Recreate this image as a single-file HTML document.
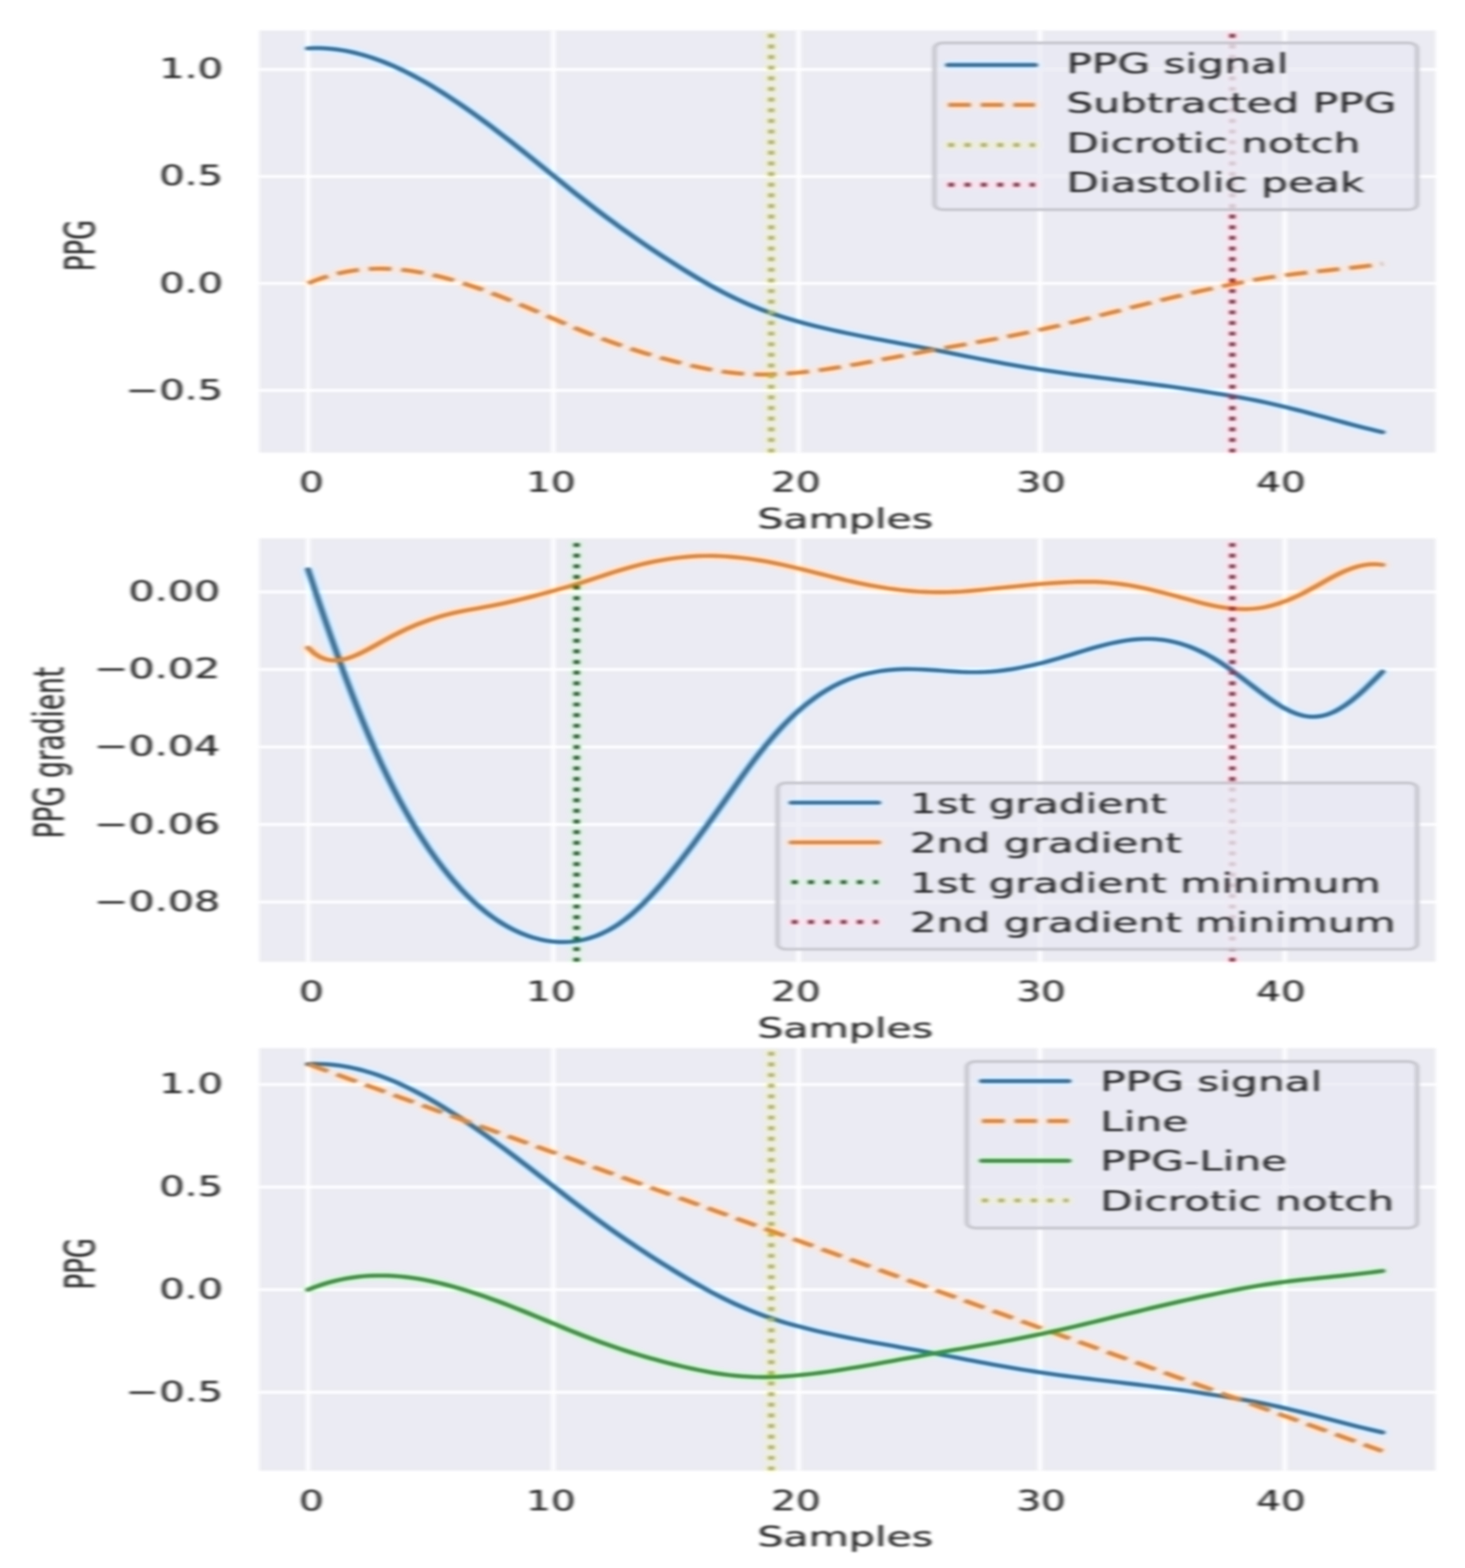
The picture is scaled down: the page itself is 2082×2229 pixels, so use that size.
<!DOCTYPE html>
<html lang="en"><head><meta charset="utf-8"><title>PPG signal analysis</title>
<style>html,body{margin:0;padding:0;background:#fff}body{width:2082px;height:2229px;overflow:hidden}</style>
</head><body>
<svg width="2082" height="2229" viewBox="0 0 350 575" preserveAspectRatio="none" style="display:block">
<defs>
<clipPath id="c0"><rect x="61.95" y="11.17" width="280.99" height="154.8"/></clipPath>
<clipPath id="c1"><rect x="61.95" y="197.47" width="280.99" height="155.22"/></clipPath>
<clipPath id="c2"><rect x="61.95" y="384.37" width="280.99" height="154.91"/></clipPath>
<filter id="bl" filterUnits="userSpaceOnUse" x="-8" y="-8" width="366" height="591" color-interpolation-filters="sRGB">
<feGaussianBlur in="SourceGraphic" stdDeviation="0.45" result="b"/>
<feColorMatrix in="b" type="matrix" values="0.299 0.587 0.114 0 0  0.299 0.587 0.114 0 0  0.299 0.587 0.114 0 0  0 0 0 1 0" result="y"/>
<feColorMatrix in="b" type="matrix" values="0.3505 -0.2935 -0.057 0 0.50196  -0.1495 0.2065 -0.057 0 0.50196  -0.1495 -0.2935 0.443 0 0.50196  0 0 0 1 0" result="c"/>
<feGaussianBlur in="c" stdDeviation="1.0" result="cb"/>
<feComposite in="y" in2="cb" operator="arithmetic" k1="0" k2="1" k3="2" k4="-1.00392"/>
</filter>
</defs>
<rect width="350" height="575" fill="#ffffff"/>
<g font-family="'DejaVu Sans', 'Liberation Sans', sans-serif" font-size="10.0" fill="#262626" stroke="#262626" stroke-width="0.06" stroke-linejoin="round" filter="url(#bl)">
<rect x="-10" y="-10" width="370" height="595" fill="#ffffff" stroke="none"/>
<rect x="61.95" y="11.17" width="280.99" height="154.8" fill="#EAEAF2" stroke="none"/>
<g stroke="#ffffff" stroke-width="1.0" clip-path="url(#c0)">
<line x1="73.61" x2="73.61" y1="11.17" y2="165.97"/>
<line x1="132.2" x2="132.2" y1="11.17" y2="165.97"/>
<line x1="190.8" x2="190.8" y1="11.17" y2="165.97"/>
<line x1="248.46" x2="248.46" y1="11.17" y2="165.97"/>
<line x1="306.96" x2="306.96" y1="11.17" y2="165.97"/>
<line x1="61.95" x2="342.94" y1="25.49" y2="25.49"/>
<line x1="61.95" x2="342.94" y1="64.71" y2="64.71"/>
<line x1="61.95" x2="342.94" y1="103.94" y2="103.94"/>
<line x1="61.95" x2="342.94" y1="143.17" y2="143.17"/>
</g>
<text transform="translate(74.39 180.42) scale(0.93 1)" text-anchor="middle">0</text>
<text transform="translate(131.63 180.42) scale(0.93 1)" text-anchor="middle">10</text>
<text transform="translate(190.16 180.42) scale(0.93 1)" text-anchor="middle">20</text>
<text transform="translate(248.73 180.42) scale(0.93 1)" text-anchor="middle">30</text>
<text transform="translate(306.04 180.42) scale(0.93 1)" text-anchor="middle">40</text>
<text transform="translate(53.29 28.74) scale(0.96 1)" text-anchor="end">1.0</text>
<text transform="translate(53.29 67.96) scale(0.96 1)" text-anchor="end">0.5</text>
<text transform="translate(53.29 107.19) scale(0.96 1)" text-anchor="end">0.0</text>
<text transform="translate(53.29 146.42) scale(0.96 1)" text-anchor="end">−0.5</text>
<text transform="translate(201.94 193.83) scale(0.985 1)" text-anchor="middle">Samples</text>
<text transform="translate(22.53 90.03) rotate(-90) scale(0.95 1)" text-anchor="middle">PPG</text>
<g clip-path="url(#c0)">
<polyline points="73.61,17.73 75.07,17.65 76.53,17.66 77.99,17.76 79.45,17.95 80.91,18.23 82.36,18.59 83.82,19.03 85.28,19.55 86.74,20.15 88.2,20.83 89.66,21.58 91.11,22.39 92.57,23.28 94.03,24.23 95.49,25.25 96.95,26.33 98.41,27.47 99.86,28.66 101.32,29.91 102.78,31.21 104.24,32.56 105.7,33.96 107.16,35.4 108.61,36.88 110.07,38.39 111.53,39.94 112.99,41.51 114.45,43.12 115.91,44.76 117.36,46.43 118.82,48.13 120.28,49.85 121.74,51.58 123.2,53.34 124.66,55.11 126.11,56.89 127.57,58.68 129.03,60.49 130.49,62.29 131.95,64.1 133.41,65.91 134.86,67.71 136.32,69.51 137.78,71.29 139.24,73.04 140.7,74.78 142.16,76.5 143.61,78.19 145.07,79.86 146.53,81.51 147.99,83.14 149.45,84.74 150.91,86.32 152.36,87.87 153.82,89.41 155.28,90.91 156.74,92.4 158.2,93.87 159.66,95.32 161.11,96.74 162.57,98.15 164.03,99.53 165.49,100.89 166.95,102.23 168.41,103.53 169.86,104.8 171.32,106.03 172.78,107.21 174.24,108.35 175.7,109.44 177.16,110.47 178.61,111.46 180.07,112.41 181.53,113.3 182.99,114.15 184.45,114.95 185.91,115.7 187.36,116.41 188.82,117.09 190.28,117.73 191.74,118.35 193.2,118.94 194.66,119.51 196.11,120.06 197.57,120.58 199.03,121.08 200.49,121.57 201.95,122.04 203.41,122.5 204.86,122.96 206.32,123.4 207.78,123.84 209.24,124.26 210.7,124.68 212.16,125.1 213.61,125.51 215.07,125.93 216.53,126.34 217.99,126.76 219.45,127.18 220.91,127.61 222.36,128.03 223.82,128.46 225.28,128.9 226.74,129.35 228.2,129.8 229.66,130.25 231.11,130.7 232.57,131.14 234.03,131.59 235.49,132.02 236.95,132.45 238.41,132.87 239.86,133.28 241.32,133.68 242.78,134.07 244.24,134.45 245.7,134.83 247.16,135.19 248.61,135.54 250.07,135.89 251.53,136.23 252.99,136.55 254.45,136.87 255.91,137.17 257.36,137.46 258.82,137.75 260.28,138.03 261.74,138.31 263.2,138.58 264.66,138.86 266.11,139.13 267.57,139.41 269.03,139.68 270.49,139.96 271.95,140.24 273.41,140.53 274.86,140.82 276.32,141.11 277.78,141.4 279.24,141.7 280.7,142.01 282.16,142.32 283.61,142.64 285.07,142.97 286.53,143.31 287.99,143.65 289.45,144 290.91,144.36 292.36,144.72 293.82,145.1 295.28,145.48 296.74,145.88 298.2,146.3 299.66,146.73 301.11,147.19 302.57,147.66 304.03,148.16 305.49,148.67 306.95,149.21 308.41,149.76 309.86,150.32 311.32,150.9 312.78,151.49 314.24,152.08 315.7,152.69 317.16,153.29 318.61,153.9 320.07,154.5 321.53,155.1 322.99,155.69 324.45,156.28 325.91,156.85 327.36,157.4 328.82,157.95 330.28,158.47" fill="none" stroke="#1f77b4" stroke-width="1.47" stroke-linejoin="round" stroke-linecap="round"/>
<polyline points="73.61,103.94 75.07,103.02 76.53,102.19 77.99,101.45 79.45,100.8 80.91,100.24 82.36,99.76 83.82,99.36 85.28,99.04 86.74,98.8 88.2,98.64 89.66,98.54 91.11,98.52 92.57,98.57 94.03,98.68 95.49,98.86 96.95,99.1 98.41,99.39 99.86,99.75 101.32,100.16 102.78,100.62 104.24,101.13 105.7,101.68 107.16,102.28 108.61,102.92 110.07,103.59 111.53,104.3 112.99,105.03 114.45,105.8 115.91,106.6 117.36,107.43 118.82,108.29 120.28,109.16 121.74,110.06 123.2,110.97 124.66,111.9 126.11,112.85 127.57,113.8 129.03,114.76 130.49,115.73 131.95,116.7 133.41,117.66 134.86,118.63 136.32,119.58 137.78,120.52 139.24,121.43 140.7,122.33 142.16,123.21 143.61,124.06 145.07,124.89 146.53,125.7 147.99,126.49 149.45,127.25 150.91,127.99 152.36,128.7 153.82,129.39 155.28,130.06 156.74,130.71 158.2,131.33 159.66,131.94 161.11,132.53 162.57,133.09 164.03,133.64 165.49,134.16 166.95,134.65 168.41,135.11 169.86,135.54 171.32,135.93 172.78,136.27 174.24,136.57 175.7,136.81 177.16,137.01 178.61,137.16 180.07,137.26 181.53,137.32 182.99,137.33 184.45,137.29 185.91,137.2 187.36,137.07 188.82,136.9 190.28,136.71 191.74,136.48 193.2,136.24 194.66,135.97 196.11,135.67 197.57,135.35 199.03,135.01 200.49,134.66 201.95,134.29 203.41,133.91 204.86,133.53 206.32,133.13 207.78,132.72 209.24,132.31 210.7,131.89 212.16,131.46 213.61,131.04 215.07,130.61 216.53,130.19 217.99,129.77 219.45,129.35 220.91,128.93 222.36,128.52 223.82,128.11 225.28,127.7 226.74,127.31 228.2,126.92 229.66,126.53 231.11,126.14 232.57,125.75 234.03,125.35 235.49,124.94 236.95,124.53 238.41,124.11 239.86,123.68 241.32,123.24 242.78,122.79 244.24,122.33 245.7,121.86 247.16,121.39 248.61,120.9 250.07,120.4 251.53,119.9 252.99,119.39 254.45,118.86 255.91,118.32 257.36,117.78 258.82,117.22 260.28,116.66 261.74,116.1 263.2,115.53 264.66,114.97 266.11,114.4 267.57,113.84 269.03,113.27 270.49,112.71 271.95,112.15 273.41,111.6 274.86,111.04 276.32,110.49 277.78,109.95 279.24,109.41 280.7,108.87 282.16,108.35 283.61,107.83 285.07,107.32 286.53,106.81 287.99,106.31 289.45,105.82 290.91,105.34 292.36,104.86 293.82,104.4 295.28,103.94 296.74,103.5 298.2,103.08 299.66,102.67 301.11,102.29 302.57,101.92 304.03,101.58 305.49,101.25 306.95,100.94 308.41,100.65 309.86,100.38 311.32,100.11 312.78,99.86 314.24,99.62 315.7,99.38 317.16,99.15 318.61,98.91 320.07,98.67 321.53,98.43 322.99,98.18 324.45,97.93 325.91,97.66 327.36,97.37 328.82,97.07 330.28,96.76" fill="none" stroke="#ff7f0e" stroke-width="1.47" stroke-linejoin="round" stroke-linecap="butt" stroke-dasharray="5.44 2.35"/>
<line x1="184.26" x2="184.26" y1="165.97" y2="11.17" stroke="#bfbf00" stroke-width="1.47" stroke-dasharray="1.47 2.43"/>
<line x1="294.42" x2="294.42" y1="165.97" y2="11.17" stroke="#d0183c" stroke-width="1.47" stroke-dasharray="1.47 2.43"/>
</g>
<rect x="223.25" y="15.74" width="115.32" height="61.14" rx="2" ry="2" fill="#EAEAF2" fill-opacity="0.8" stroke="#c4c4cc" stroke-opacity="1" stroke-width="1.0"/>
<line x1="226.52" x2="247.29" y1="23.84" y2="23.84" stroke="#1f77b4" stroke-width="1.47" stroke-linecap="round"/>
<text x="254.77" y="26.75" font-size="10.1">PPG signal</text>
<line x1="226.52" x2="247.29" y1="38.49" y2="38.49" stroke="#ff7f0e" stroke-width="1.47" stroke-dasharray="5.44 2.35"/>
<text x="254.77" y="41.33" font-size="10.1">Subtracted PPG</text>
<line x1="226.52" x2="247.29" y1="53.17" y2="53.17" stroke="#bfbf00" stroke-width="1.47" stroke-dasharray="1.47 2.43"/>
<text x="254.77" y="55.93" font-size="10.1">Dicrotic notch</text>
<line x1="226.52" x2="247.29" y1="67.74" y2="67.74" stroke="#d0183c" stroke-width="1.47" stroke-dasharray="1.47 2.43"/>
<text x="254.77" y="70.42" font-size="10.1">Diastolic peak</text>
<rect x="61.95" y="197.47" width="280.99" height="155.22" fill="#EAEAF2" stroke="none"/>
<g stroke="#ffffff" stroke-width="1.0" clip-path="url(#c1)">
<line x1="73.61" x2="73.61" y1="197.47" y2="352.69"/>
<line x1="132.2" x2="132.2" y1="197.47" y2="352.69"/>
<line x1="190.8" x2="190.8" y1="197.47" y2="352.69"/>
<line x1="248.46" x2="248.46" y1="197.47" y2="352.69"/>
<line x1="306.96" x2="306.96" y1="197.47" y2="352.69"/>
<line x1="61.95" x2="342.94" y1="217.08" y2="217.08"/>
<line x1="61.95" x2="342.94" y1="245.5" y2="245.5"/>
<line x1="61.95" x2="342.94" y1="273.92" y2="273.92"/>
<line x1="61.95" x2="342.94" y1="302.34" y2="302.34"/>
<line x1="61.95" x2="342.94" y1="330.76" y2="330.76"/>
</g>
<text transform="translate(74.39 367.13) scale(0.93 1)" text-anchor="middle">0</text>
<text transform="translate(131.63 367.13) scale(0.93 1)" text-anchor="middle">10</text>
<text transform="translate(190.16 367.13) scale(0.93 1)" text-anchor="middle">20</text>
<text transform="translate(248.73 367.13) scale(0.93 1)" text-anchor="middle">30</text>
<text transform="translate(306.04 367.13) scale(0.93 1)" text-anchor="middle">40</text>
<text transform="translate(52.62 220.33) scale(0.985 1)" text-anchor="end">0.00</text>
<text transform="translate(52.62 248.75) scale(0.985 1)" text-anchor="end">−0.02</text>
<text transform="translate(52.62 277.17) scale(0.985 1)" text-anchor="end">−0.04</text>
<text transform="translate(52.62 305.59) scale(0.985 1)" text-anchor="end">−0.06</text>
<text transform="translate(52.62 334.01) scale(0.985 1)" text-anchor="end">−0.08</text>
<text transform="translate(201.94 380.55) scale(0.985 1)" text-anchor="middle">Samples</text>
<text transform="translate(15.05 276.02) rotate(-90) scale(0.966 1)" text-anchor="middle">PPG gradient</text>
<g clip-path="url(#c1)">
<polyline points="73.61,208.82 75.07,215.59 76.53,222.25 77.99,228.78 79.45,235.18 80.91,241.43 82.36,247.53 83.82,253.45 85.28,259.2 86.74,264.75 88.2,270.1 89.66,275.23 91.11,280.15 92.57,284.83 94.03,289.29 95.49,293.55 96.95,297.6 98.41,301.47 99.86,305.15 101.32,308.64 102.78,311.95 104.24,315.07 105.7,318.02 107.16,320.8 108.61,323.43 110.07,325.91 111.53,328.24 112.99,330.41 114.45,332.42 115.91,334.27 117.36,335.97 118.82,337.51 120.28,338.92 121.74,340.19 123.2,341.33 124.66,342.33 126.11,343.2 127.57,343.92 129.03,344.5 130.49,344.95 131.95,345.26 133.41,345.43 134.86,345.46 136.32,345.35 137.78,345.09 139.24,344.67 140.7,344.09 142.16,343.36 143.61,342.45 145.07,341.37 146.53,340.12 147.99,338.69 149.45,337.07 150.91,335.26 152.36,333.27 153.82,331.12 155.28,328.82 156.74,326.38 158.2,323.83 159.66,321.17 161.11,318.43 162.57,315.61 164.03,312.73 165.49,309.79 166.95,306.8 168.41,303.77 169.86,300.7 171.32,297.59 172.78,294.45 174.24,291.29 175.7,288.13 177.16,285 178.61,281.92 180.07,278.94 181.53,276.05 182.99,273.27 184.45,270.62 185.91,268.09 187.36,265.7 188.82,263.45 190.28,261.35 191.74,259.4 193.2,257.59 194.66,255.92 196.11,254.39 197.57,253 199.03,251.73 200.49,250.6 201.95,249.59 203.41,248.72 204.86,247.96 206.32,247.31 207.78,246.78 209.24,246.34 210.7,245.99 212.16,245.73 213.61,245.55 215.07,245.43 216.53,245.38 217.99,245.39 219.45,245.45 220.91,245.55 222.36,245.67 223.82,245.82 225.28,245.97 226.74,246.12 228.2,246.26 229.66,246.38 231.11,246.46 232.57,246.49 234.03,246.47 235.49,246.4 236.95,246.26 238.41,246.07 239.86,245.8 241.32,245.49 242.78,245.12 244.24,244.71 245.7,244.25 247.16,243.75 248.61,243.21 250.07,242.64 251.53,242.03 252.99,241.39 254.45,240.73 255.91,240.06 257.36,239.37 258.82,238.68 260.28,238.01 261.74,237.37 263.2,236.76 264.66,236.2 266.11,235.69 267.57,235.25 269.03,234.88 270.49,234.59 271.95,234.39 273.41,234.29 274.86,234.29 276.32,234.41 277.78,234.64 279.24,235 280.7,235.48 282.16,236.09 283.61,236.82 285.07,237.67 286.53,238.65 287.99,239.75 289.45,240.97 290.91,242.32 292.36,243.78 293.82,245.33 295.28,246.96 296.74,248.64 298.2,250.35 299.66,252.07 301.11,253.77 302.57,255.43 304.03,257.01 305.49,258.48 306.95,259.79 308.41,260.91 309.86,261.81 311.32,262.45 312.78,262.81 314.24,262.84 315.7,262.57 317.16,261.98 318.61,261.1 320.07,259.92 321.53,258.47 322.99,256.81 324.45,254.95 325.91,252.93 327.36,250.79 328.82,248.57 330.28,246.3" fill="none" stroke="#1f77b4" stroke-width="1.47" stroke-linejoin="round" stroke-linecap="round"/>
<polyline points="73.61,237.55 75.07,239.58 76.53,240.99 77.99,241.84 79.45,242.2 80.91,242.15 82.36,241.74 83.82,241.04 85.28,240.13 86.74,239.07 88.2,237.91 89.66,236.69 91.11,235.44 92.57,234.21 94.03,233.02 95.49,231.88 96.95,230.8 98.41,229.8 99.86,228.87 101.32,228.02 102.78,227.23 104.24,226.5 105.7,225.83 107.16,225.23 108.61,224.69 110.07,224.22 111.53,223.78 112.99,223.38 114.45,222.98 115.91,222.58 117.36,222.16 118.82,221.72 120.28,221.25 121.74,220.76 123.2,220.24 124.66,219.7 126.11,219.14 127.57,218.56 129.03,217.97 130.49,217.37 131.95,216.77 133.41,216.16 134.86,215.53 136.32,214.89 137.78,214.22 139.24,213.52 140.7,212.8 142.16,212.06 143.61,211.32 145.07,210.59 146.53,209.87 147.99,209.18 149.45,208.52 150.91,207.89 152.36,207.29 153.82,206.74 155.28,206.24 156.74,205.78 158.2,205.38 159.66,205.02 161.11,204.7 162.57,204.43 164.03,204.2 165.49,204.03 166.95,203.91 168.41,203.85 169.86,203.84 171.32,203.89 172.78,203.99 174.24,204.14 175.7,204.33 177.16,204.57 178.61,204.84 180.07,205.15 181.53,205.5 182.99,205.88 184.45,206.3 185.91,206.75 187.36,207.24 188.82,207.75 190.28,208.28 191.74,208.82 193.2,209.38 194.66,209.94 196.11,210.5 197.57,211.07 199.03,211.63 200.49,212.17 201.95,212.71 203.41,213.22 204.86,213.71 206.32,214.18 207.78,214.62 209.24,215.04 210.7,215.42 212.16,215.77 213.61,216.08 215.07,216.36 216.53,216.59 217.99,216.79 219.45,216.95 220.91,217.06 222.36,217.14 223.82,217.18 225.28,217.18 226.74,217.14 228.2,217.06 229.66,216.95 231.11,216.79 232.57,216.6 234.03,216.39 235.49,216.16 236.95,215.93 238.41,215.69 239.86,215.46 241.32,215.23 242.78,215.01 244.24,214.78 245.7,214.56 247.16,214.35 248.61,214.16 250.07,213.99 251.53,213.83 252.99,213.69 254.45,213.57 255.91,213.47 257.36,213.39 258.82,213.35 260.28,213.34 261.74,213.39 263.2,213.5 264.66,213.66 266.11,213.87 267.57,214.14 269.03,214.46 270.49,214.83 271.95,215.25 273.41,215.72 274.86,216.23 276.32,216.77 277.78,217.32 279.24,217.9 280.7,218.48 282.16,219.08 283.61,219.68 285.07,220.3 286.53,220.9 287.99,221.47 289.45,221.98 290.91,222.42 292.36,222.78 293.82,223.06 295.28,223.25 296.74,223.35 298.2,223.34 299.66,223.21 301.11,222.94 302.57,222.53 304.03,221.98 305.49,221.31 306.95,220.51 308.41,219.62 309.86,218.62 311.32,217.53 312.78,216.37 314.24,215.13 315.7,213.86 317.16,212.6 318.61,211.39 320.07,210.27 321.53,209.26 322.99,208.39 324.45,207.7 325.91,207.2 327.36,206.92 328.82,206.88 330.28,207.13" fill="none" stroke="#ff7f0e" stroke-width="1.47" stroke-linejoin="round" stroke-linecap="round"/>
<line x1="137.75" x2="137.75" y1="352.69" y2="197.47" stroke="#008000" stroke-width="1.47" stroke-dasharray="1.47 2.43"/>
<line x1="294.42" x2="294.42" y1="352.69" y2="197.47" stroke="#d0183c" stroke-width="1.47" stroke-dasharray="1.47 2.43"/>
</g>
<rect x="185.76" y="287.11" width="152.81" height="60.98" rx="2" ry="2" fill="#EAEAF2" fill-opacity="0.8" stroke="#c4c4cc" stroke-opacity="1" stroke-width="1.0"/>
<line x1="189.12" x2="209.8" y1="294.34" y2="294.34" stroke="#1f77b4" stroke-width="1.47" stroke-linecap="round"/>
<text x="217.36" y="298.08" font-size="10.1">1st gradient</text>
<line x1="189.12" x2="209.8" y1="308.91" y2="308.91" stroke="#ff7f0e" stroke-width="1.47" stroke-linecap="round"/>
<text x="217.36" y="312.65" font-size="10.1">2nd gradient</text>
<line x1="189.12" x2="209.8" y1="323.49" y2="323.49" stroke="#008000" stroke-width="1.47" stroke-dasharray="1.47 2.43"/>
<text x="217.36" y="327.25" font-size="10.1">1st gradient minimum</text>
<line x1="189.12" x2="209.8" y1="338.09" y2="338.09" stroke="#d0183c" stroke-width="1.47" stroke-dasharray="1.47 2.43"/>
<text x="217.36" y="341.8" font-size="10.1">2nd gradient minimum</text>
<rect x="61.95" y="384.37" width="280.99" height="154.91" fill="#EAEAF2" stroke="none"/>
<g stroke="#ffffff" stroke-width="1.0" clip-path="url(#c2)">
<line x1="73.61" x2="73.61" y1="384.37" y2="539.27"/>
<line x1="132.2" x2="132.2" y1="384.37" y2="539.27"/>
<line x1="190.8" x2="190.8" y1="384.37" y2="539.27"/>
<line x1="248.46" x2="248.46" y1="384.37" y2="539.27"/>
<line x1="306.96" x2="306.96" y1="384.37" y2="539.27"/>
<line x1="61.95" x2="342.94" y1="397.68" y2="397.68"/>
<line x1="61.95" x2="342.94" y1="435.31" y2="435.31"/>
<line x1="61.95" x2="342.94" y1="472.95" y2="472.95"/>
<line x1="61.95" x2="342.94" y1="510.59" y2="510.59"/>
</g>
<text transform="translate(74.39 553.72) scale(0.93 1)" text-anchor="middle">0</text>
<text transform="translate(131.63 553.72) scale(0.93 1)" text-anchor="middle">10</text>
<text transform="translate(190.16 553.72) scale(0.93 1)" text-anchor="middle">20</text>
<text transform="translate(248.73 553.72) scale(0.93 1)" text-anchor="middle">30</text>
<text transform="translate(306.04 553.72) scale(0.93 1)" text-anchor="middle">40</text>
<text transform="translate(53.29 400.93) scale(0.96 1)" text-anchor="end">1.0</text>
<text transform="translate(53.29 438.56) scale(0.96 1)" text-anchor="end">0.5</text>
<text transform="translate(53.29 476.2) scale(0.96 1)" text-anchor="end">0.0</text>
<text transform="translate(53.29 513.84) scale(0.96 1)" text-anchor="end">−0.5</text>
<text transform="translate(201.94 567.13) scale(0.985 1)" text-anchor="middle">Samples</text>
<text transform="translate(22.53 463.43) rotate(-90) scale(0.95 1)" text-anchor="middle">PPG</text>
<g clip-path="url(#c2)">
<polyline points="73.61,390.23 75.07,390.15 76.53,390.17 77.99,390.26 79.45,390.45 80.91,390.71 82.36,391.06 83.82,391.48 85.28,391.98 86.74,392.56 88.2,393.21 89.66,393.92 91.11,394.71 92.57,395.56 94.03,396.47 95.49,397.45 96.95,398.49 98.41,399.58 99.86,400.72 101.32,401.92 102.78,403.17 104.24,404.47 105.7,405.81 107.16,407.19 108.61,408.61 110.07,410.06 111.53,411.54 112.99,413.05 114.45,414.6 115.91,416.17 117.36,417.77 118.82,419.4 120.28,421.05 121.74,422.71 123.2,424.4 124.66,426.1 126.11,427.81 127.57,429.53 129.03,431.26 130.49,432.99 131.95,434.73 133.41,436.46 134.86,438.19 136.32,439.91 137.78,441.62 139.24,443.3 140.7,444.97 142.16,446.62 143.61,448.24 145.07,449.85 146.53,451.43 147.99,452.99 149.45,454.53 150.91,456.04 152.36,457.53 153.82,459 155.28,460.45 156.74,461.88 158.2,463.29 159.66,464.67 161.11,466.04 162.57,467.39 164.03,468.72 165.49,470.03 166.95,471.3 168.41,472.56 169.86,473.77 171.32,474.95 172.78,476.09 174.24,477.18 175.7,478.22 177.16,479.22 178.61,480.17 180.07,481.07 181.53,481.93 182.99,482.75 184.45,483.51 185.91,484.24 187.36,484.92 188.82,485.56 190.28,486.18 191.74,486.77 193.2,487.34 194.66,487.89 196.11,488.41 197.57,488.91 199.03,489.39 200.49,489.86 201.95,490.31 203.41,490.76 204.86,491.19 206.32,491.62 207.78,492.04 209.24,492.45 210.7,492.85 212.16,493.25 213.61,493.64 215.07,494.04 216.53,494.44 217.99,494.84 219.45,495.25 220.91,495.65 222.36,496.06 223.82,496.48 225.28,496.9 226.74,497.32 228.2,497.76 229.66,498.19 231.11,498.62 232.57,499.05 234.03,499.47 235.49,499.89 236.95,500.3 238.41,500.7 239.86,501.1 241.32,501.48 242.78,501.86 244.24,502.23 245.7,502.58 247.16,502.93 248.61,503.27 250.07,503.6 251.53,503.92 252.99,504.24 254.45,504.54 255.91,504.83 257.36,505.11 258.82,505.39 260.28,505.65 261.74,505.92 263.2,506.18 264.66,506.45 266.11,506.71 267.57,506.98 269.03,507.24 270.49,507.51 271.95,507.78 273.41,508.05 274.86,508.33 276.32,508.61 277.78,508.89 279.24,509.18 280.7,509.47 282.16,509.77 283.61,510.08 285.07,510.4 286.53,510.72 287.99,511.05 289.45,511.39 290.91,511.73 292.36,512.08 293.82,512.43 295.28,512.81 296.74,513.19 298.2,513.59 299.66,514.01 301.11,514.44 302.57,514.9 304.03,515.37 305.49,515.87 306.95,516.38 308.41,516.91 309.86,517.45 311.32,518 312.78,518.57 314.24,519.14 315.7,519.72 317.16,520.3 318.61,520.88 320.07,521.46 321.53,522.03 322.99,522.6 324.45,523.16 325.91,523.71 327.36,524.24 328.82,524.76 330.28,525.27" fill="none" stroke="#1f77b4" stroke-width="1.47" stroke-linejoin="round" stroke-linecap="round"/>
<polyline points="73.61,390.23 75.07,391.04 76.53,391.85 77.99,392.65 79.45,393.46 80.91,394.26 82.36,395.07 83.82,395.88 85.28,396.68 86.74,397.49 88.2,398.3 89.66,399.1 91.11,399.91 92.57,400.72 94.03,401.52 95.49,402.33 96.95,403.14 98.41,403.94 99.86,404.75 101.32,405.55 102.78,406.36 104.24,407.17 105.7,407.97 107.16,408.78 108.61,409.59 110.07,410.39 111.53,411.2 112.99,412.01 114.45,412.81 115.91,413.62 117.36,414.42 118.82,415.23 120.28,416.04 121.74,416.84 123.2,417.65 124.66,418.46 126.11,419.26 127.57,420.07 129.03,420.88 130.49,421.68 131.95,422.49 133.41,423.3 134.86,424.1 136.32,424.91 137.78,425.71 139.24,426.52 140.7,427.33 142.16,428.13 143.61,428.94 145.07,429.75 146.53,430.55 147.99,431.36 149.45,432.17 150.91,432.97 152.36,433.78 153.82,434.58 155.28,435.39 156.74,436.2 158.2,437 159.66,437.81 161.11,438.62 162.57,439.42 164.03,440.23 165.49,441.04 166.95,441.84 168.41,442.65 169.86,443.46 171.32,444.26 172.78,445.07 174.24,445.87 175.7,446.68 177.16,447.49 178.61,448.29 180.07,449.1 181.53,449.91 182.99,450.71 184.45,451.52 185.91,452.33 187.36,453.13 188.82,453.94 190.28,454.74 191.74,455.55 193.2,456.36 194.66,457.16 196.11,457.97 197.57,458.78 199.03,459.58 200.49,460.39 201.95,461.2 203.41,462 204.86,462.81 206.32,463.62 207.78,464.42 209.24,465.23 210.7,466.03 212.16,466.84 213.61,467.65 215.07,468.45 216.53,469.26 217.99,470.07 219.45,470.87 220.91,471.68 222.36,472.49 223.82,473.29 225.28,474.1 226.74,474.9 228.2,475.71 229.66,476.52 231.11,477.32 232.57,478.13 234.03,478.94 235.49,479.74 236.95,480.55 238.41,481.36 239.86,482.16 241.32,482.97 242.78,483.78 244.24,484.58 245.7,485.39 247.16,486.19 248.61,487 250.07,487.81 251.53,488.61 252.99,489.42 254.45,490.23 255.91,491.03 257.36,491.84 258.82,492.65 260.28,493.45 261.74,494.26 263.2,495.06 264.66,495.87 266.11,496.68 267.57,497.48 269.03,498.29 270.49,499.1 271.95,499.9 273.41,500.71 274.86,501.52 276.32,502.32 277.78,503.13 279.24,503.93 280.7,504.74 282.16,505.55 283.61,506.35 285.07,507.16 286.53,507.97 287.99,508.77 289.45,509.58 290.91,510.39 292.36,511.19 293.82,512 295.28,512.81 296.74,513.61 298.2,514.42 299.66,515.22 301.11,516.03 302.57,516.84 304.03,517.64 305.49,518.45 306.95,519.26 308.41,520.06 309.86,520.87 311.32,521.68 312.78,522.48 314.24,523.29 315.7,524.09 317.16,524.9 318.61,525.71 320.07,526.51 321.53,527.32 322.99,528.13 324.45,528.93 325.91,529.74 327.36,530.55 328.82,531.35 330.28,532.16" fill="none" stroke="#ff7f0e" stroke-width="1.47" stroke-linejoin="round" stroke-linecap="butt" stroke-dasharray="5.44 2.35"/>
<polyline points="73.61,472.95 75.07,472.06 76.53,471.27 77.99,470.56 79.45,469.94 80.91,469.4 82.36,468.94 83.82,468.56 85.28,468.25 86.74,468.02 88.2,467.86 89.66,467.77 91.11,467.75 92.57,467.79 94.03,467.9 95.49,468.07 96.95,468.3 98.41,468.59 99.86,468.93 101.32,469.32 102.78,469.76 104.24,470.25 105.7,470.78 107.16,471.36 108.61,471.97 110.07,472.61 111.53,473.29 112.99,474 114.45,474.74 115.91,475.5 117.36,476.3 118.82,477.12 120.28,477.96 121.74,478.82 123.2,479.7 124.66,480.59 126.11,481.49 127.57,482.41 129.03,483.33 130.49,484.26 131.95,485.19 133.41,486.12 134.86,487.04 136.32,487.95 137.78,488.85 139.24,489.73 140.7,490.59 142.16,491.43 143.61,492.25 145.07,493.05 146.53,493.83 147.99,494.58 149.45,495.31 150.91,496.02 152.36,496.71 153.82,497.37 155.28,498.01 156.74,498.63 158.2,499.23 159.66,499.81 161.11,500.38 162.57,500.92 164.03,501.44 165.49,501.94 166.95,502.41 168.41,502.86 169.86,503.27 171.32,503.64 172.78,503.97 174.24,504.25 175.7,504.49 177.16,504.68 178.61,504.82 180.07,504.92 181.53,504.97 182.99,504.98 184.45,504.94 185.91,504.86 187.36,504.73 188.82,504.57 190.28,504.38 191.74,504.17 193.2,503.94 194.66,503.68 196.11,503.39 197.57,503.09 199.03,502.76 200.49,502.42 201.95,502.07 203.41,501.7 204.86,501.33 206.32,500.95 207.78,500.57 209.24,500.17 210.7,499.76 212.16,499.35 213.61,498.95 215.07,498.54 216.53,498.13 217.99,497.73 219.45,497.33 220.91,496.93 222.36,496.53 223.82,496.14 225.28,495.75 226.74,495.37 228.2,494.99 229.66,494.62 231.11,494.25 232.57,493.87 234.03,493.49 235.49,493.1 236.95,492.7 238.41,492.3 239.86,491.88 241.32,491.46 242.78,491.03 244.24,490.59 245.7,490.14 247.16,489.69 248.61,489.22 250.07,488.75 251.53,488.26 252.99,487.77 254.45,487.26 255.91,486.75 257.36,486.22 258.82,485.69 260.28,485.15 261.74,484.61 263.2,484.07 264.66,483.53 266.11,482.98 267.57,482.44 269.03,481.9 270.49,481.36 271.95,480.83 273.41,480.29 274.86,479.76 276.32,479.24 277.78,478.71 279.24,478.19 280.7,477.68 282.16,477.18 283.61,476.68 285.07,476.19 286.53,475.7 287.99,475.23 289.45,474.76 290.91,474.29 292.36,473.83 293.82,473.39 295.28,472.95 296.74,472.53 298.2,472.12 299.66,471.73 301.11,471.36 302.57,471.01 304.03,470.68 305.49,470.37 306.95,470.07 308.41,469.79 309.86,469.53 311.32,469.28 312.78,469.03 314.24,468.8 315.7,468.57 317.16,468.35 318.61,468.12 320.07,467.9 321.53,467.66 322.99,467.43 324.45,467.18 325.91,466.92 327.36,466.65 328.82,466.36 330.28,466.06" fill="none" stroke="#2ca02c" stroke-width="1.47" stroke-linejoin="round" stroke-linecap="round"/>
<line x1="184.26" x2="184.26" y1="539.27" y2="384.37" stroke="#bfbf00" stroke-width="1.47" stroke-dasharray="1.47 2.43"/>
</g>
<rect x="230.98" y="389.27" width="107.59" height="61.06" rx="2" ry="2" fill="#EAEAF2" fill-opacity="0.8" stroke="#c4c4cc" stroke-opacity="1" stroke-width="1.0"/>
<line x1="234.59" x2="255.27" y1="396.44" y2="396.44" stroke="#1f77b4" stroke-width="1.47" stroke-linecap="round"/>
<text x="262.84" y="400.1" font-size="10.1">PPG signal</text>
<line x1="234.59" x2="255.27" y1="411.12" y2="411.12" stroke="#ff7f0e" stroke-width="1.47" stroke-dasharray="5.44 2.35"/>
<text x="262.84" y="414.78" font-size="10.1">Line</text>
<line x1="234.59" x2="255.27" y1="425.67" y2="425.67" stroke="#2ca02c" stroke-width="1.47" stroke-linecap="round"/>
<text x="262.84" y="429.22" font-size="10.1">PPG-Line</text>
<line x1="234.59" x2="255.27" y1="440.21" y2="440.21" stroke="#bfbf00" stroke-width="1.47" stroke-dasharray="1.47 2.43"/>
<text x="262.84" y="443.88" font-size="10.1">Dicrotic notch</text>
</g>
</svg>
</body></html>
